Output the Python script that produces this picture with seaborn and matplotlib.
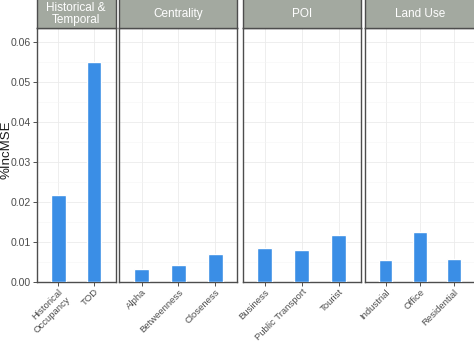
import matplotlib
matplotlib.use("Agg")
import matplotlib.pyplot as plt
import seaborn as sns
import pandas as pd

groups = ["Historical &\nTemporal", "Centrality", "POI", "Land Use"]
features = [
    ["Historical\nOccupancy", "TOD"],
    ["Alpha", "Betweenness", "Closeness"],
    ["Business", "Public Transport", "Tourist"],
    ["Industrial", "Office", "Residential"],
]
values = [
    [0.0217, 0.0551],
    [0.0032, 0.0042, 0.0070],
    [0.0086, 0.0081, 0.0117],
    [0.0054, 0.0125, 0.0057],
]
yticks = [0.00, 0.01, 0.02, 0.03, 0.04, 0.05, 0.06]
ylabel = "%IncMSE"

sns.set_theme(style="white")
plt.rcParams["font.family"] = ["Liberation Sans", "DejaVu Sans"]

W, H = 474, 341
fig = plt.figure(figsize=(W / 100, H / 100), dpi=100)

panels_px = [(37, 115.5), (119.5, 237.5), (242.5, 361), (365, 474.5)]
top_px, bot_px, strip_top = 28, 282, 0
bar_color = "#3a8ee6"
strip_color = "#a3a9a0"
border = "#4d4d4d"

for i, (g, feats, vals) in enumerate(zip(groups, features, values)):
    x0, x1 = panels_px[i]
    ax = fig.add_axes([x0 / W, 1 - bot_px / H, (x1 - x0) / W, (bot_px - top_px) / H])
    df = pd.DataFrame({"feature": feats, "value": vals})
    sns.barplot(data=df, x="feature", y="value", color=bar_color, width=0.4,
                saturation=1, ax=ax, zorder=3)
    n = len(feats)
    ax.set_xlim(-0.6, n - 0.4)
    ax.set_ylim(0, 0.0635)
    ax.set_yticks(yticks)
    ax.set_yticks([0.005, 0.015, 0.025, 0.035, 0.045, 0.055], minor=True)
    ax.grid(True, which="major", color="#ebebeb", lw=0.6, zorder=0)
    ax.grid(True, which="minor", axis="y", color="#f5f5f5", lw=0.4, zorder=0)
    ax.set_axisbelow(True)
    for s in ax.spines.values():
        s.set_color(border)
        s.set_linewidth(1.0)
    ax.set_xlabel("")
    ax.set_ylabel("")
    ax.tick_params(axis="x", which="major", length=3, width=0.6, color="#333333",
                   bottom=True, pad=0.8, labelsize=6.8, labelcolor="#4d4d4d")
    plt.setp(ax.get_xticklabels(), rotation=45, ha="right", va="top",
             rotation_mode="anchor")
    if i == 0:
        ax.tick_params(axis="y", which="major", length=3, width=0.6, color="#333333",
                       left=True, pad=1.5, labelsize=7.6, labelcolor="#4d4d4d")
        ax.set_yticklabels([f"{t:.2f}" for t in yticks])
    else:
        ax.tick_params(axis="y", which="both", left=False, labelleft=False)
    ax.tick_params(axis="y", which="minor", left=False)

    sax = fig.add_axes([x0 / W, 1 - top_px / H, (x1 - x0) / W, (top_px - strip_top) / H])
    sax.set_facecolor(strip_color)
    sax.set_xticks([])
    sax.set_yticks([])
    for s in sax.spines.values():
        s.set_color(border)
        s.set_linewidth(1.0)
    sax.spines["top"].set_visible(False)
    sax.text(0.5, 0.5, g, transform=sax.transAxes,
             ha="center", va="center", color="white", fontsize=8.5, linespacing=1.05)

fig.text(6.5 / W, 1 - 150 / H, ylabel, rotation=90, ha="center", va="center",
         fontsize=9.5, color="#1a1a1a")

fig.savefig("out.png", dpi=100, facecolor="white")
